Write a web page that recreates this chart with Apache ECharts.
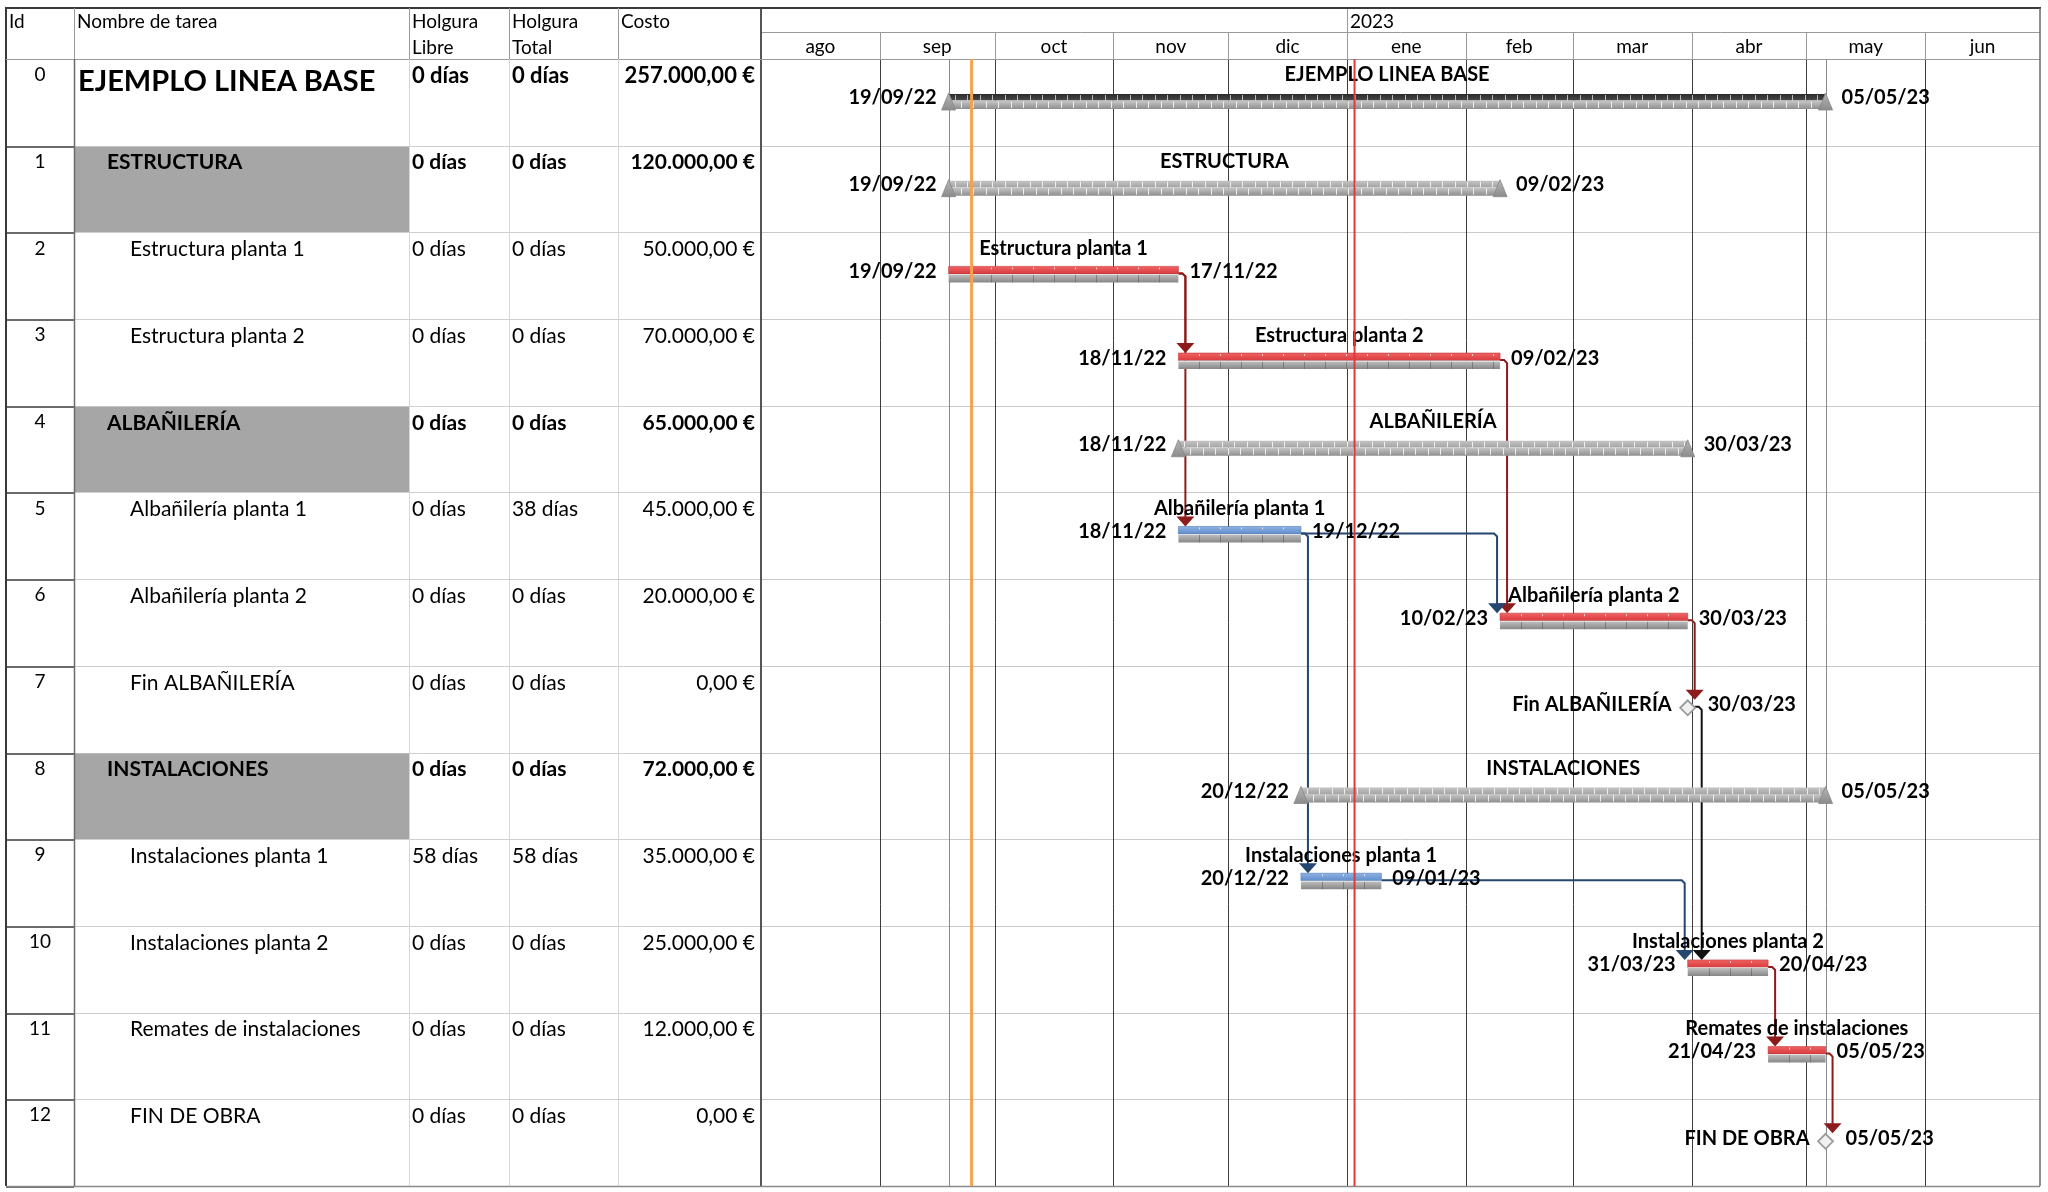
<!DOCTYPE html>
<html><head><meta charset="utf-8">
<script src="https://cdn.jsdelivr.net/npm/echarts@6/dist/echarts.min.js"></script>
<style>html,body{margin:0;padding:0;background:#fff}#c{width:2048px;height:1192px}</style>
</head><body><div id="c"></div>
<script>
// ---------------- DATA ----------------
const ids = [0,1,2,3,4,5,6,7,8,9,10,11,12];
const taskNames = ['EJEMPLO LINEA BASE','ESTRUCTURA','Estructura planta 1','Estructura planta 2','ALBAÑILERÍA','Albañilería planta 1','Albañilería planta 2','Fin ALBAÑILERÍA','INSTALACIONES','Instalaciones planta 1','Instalaciones planta 2','Remates de instalaciones','FIN DE OBRA'];
const outlineLevels = [0,1,2,2,1,2,2,2,1,2,2,2,2];
const taskKinds = ['project','summary','critical','critical','summary','normal','critical','milestone','summary','normal','critical','critical','milestone'];
const freeSlack = ['0 días','0 días','0 días','0 días','0 días','0 días','0 días','0 días','0 días','58 días','0 días','0 días','0 días'];
const totalSlack = ['0 días','0 días','0 días','0 días','0 días','38 días','0 días','0 días','0 días','58 días','0 días','0 días','0 días'];
const costs = [257000,120000,50000,70000,65000,45000,20000,0,72000,35000,25000,12000,0];
const startDates = ['2022-09-19','2022-09-19','2022-09-19','2022-11-18','2022-11-18','2022-11-18','2023-02-10','2023-03-30','2022-12-20','2022-12-20','2023-03-31','2023-04-21','2023-05-05'];
const finishDates = ['2023-05-05','2023-02-09','2022-11-17','2023-02-09','2023-03-30','2022-12-19','2023-03-30','2023-03-30','2023-05-05','2023-01-09','2023-04-20','2023-05-05','2023-05-05'];
const links = [[2,3,'critical'],[2,5,'critical'],[3,6,'critical'],[5,6,'normal'],[5,9,'normal'],[6,7,'critical'],[7,10,'plain'],[9,10,'normal'],[10,11,'critical'],[11,12,'critical']];
const tableHeaders = [['Id'],['Nombre de tarea'],['Holgura','Libre'],['Holgura','Total'],['Costo']];
const monthLabels = ['ago','sep','oct','nov','dic','ene','feb','mar','abr','may','jun'];
const monthStarts = ['2022-08-01','2022-09-01','2022-10-01','2022-11-01','2022-12-01','2023-01-01','2023-02-01','2023-03-01','2023-04-01','2023-05-01','2023-06-01'];
const timelineEnd = '2023-07-01';
const yearLabels = ['2023'];
const yearStarts = ['2023-01-01'];
const markerDates = ['2022-09-19','2023-05-06','2022-09-25','2023-01-03'];
const markerKinds = ['project','project','current','status'];

// ---------------- LAYOUT / STYLE ----------------
const DAY = 86400000;
const ts = s => Date.UTC(+s.slice(0,4), +s.slice(5,7)-1, +s.slice(8,10));
const fmtDate = s => s.slice(8,10)+'/'+s.slice(5,7)+'/'+s.slice(2,4);
const fmtCost = v => { const p = v.toFixed(2).split('.'); return p[0].replace(/\B(?=(\d{3})+(?!\d))/g,'.')+','+p[1]+' €'; };
const FONT = 'Lato, "Noto Sans", sans-serif';
const TOP = 8, HEAD_SPLIT = 32, HEAD_BOTTOM = 59, BOTTOM = 1186, GANTT_LEFT = 761, RIGHT = 2040;
const COLS = [6, 74, 409, 509, 618, 761];
const NAME_X = [78, 107, 130];
const LINK_COLORS = {critical:'#8e1b1b', normal:'#24466f', plain:'#111'};

function txt(x,y,text,opt){ return {type:'text', silent:true, style:Object.assign({x:x,y:y,text:text,fill:'#000',fontFamily:FONT,fontSize:21,fontWeight:'normal',align:'left',verticalAlign:'middle'},opt||{})}; }
function ln(x1,y1,x2,y2,stroke,w){ return {type:'line', silent:true, shape:{x1:x1,y1:y1,x2:x2,y2:y2}, style:{stroke:stroke,lineWidth:w||1}}; }
const px = v => Math.round(v)+0.5;
const grad = (a,b) => new echarts.graphic.LinearGradient(0,0,0,1,[{offset:0,color:a},{offset:1,color:b}]);

// ---------------- TABLE ----------------
function renderTableRow(params, api){
  const i = params.dataIndex;
  const c = api.coord([0, i]); const h = api.size([0,1])[1];
  const top = c[1]-h/2, bot = c[1]+h/2;
  const X = k => api.coord([COLS[k], i])[0];
  const kind = taskKinds[i];
  const bold = (kind==='summary'||kind==='project') ? 'bold' : 'normal';
  const fs = kind==='project' ? 22 : 21;
  const kids = [];
  if (kind==='summary') kids.push({type:'rect', silent:true, shape:{x:X(1)+1,y:top+1,width:X(2)-X(1)-1,height:h-1}, style:{fill:'#a6a6a6'}});
  kids.push(ln(X(1),px(bot),X(5),px(bot),'#cfcfcf',1));
  kids.push(ln(X(0),Math.round(bot)+1,X(1),Math.round(bot)+1,'#6b6b6b',2));
  const ty = top+17;
  kids.push(txt((X(0)+X(1))/2, ty-1, String(ids[i]), {align:'center', fontSize:19}));
  kids.push(txt(api.coord([NAME_X[outlineLevels[i]], i])[0], kind==='project'? top+23 : ty, taskNames[i], {fontWeight:bold, fontSize: kind==='project'?29:fs}));
  kids.push(txt(X(2)+3, ty, freeSlack[i], {fontWeight:bold, fontSize:fs}));
  kids.push(txt(X(3)+3, ty, totalSlack[i], {fontWeight:bold, fontSize:fs}));
  kids.push(txt(X(5)-6, ty, fmtCost(costs[i]), {fontWeight:bold, fontSize:fs, align:'right'}));
  return {type:'group', children:kids};
}

function renderTableHeader(params, api){
  const k = params.dataIndex;
  const x = api.coord([COLS[k], 0])[0];
  const kids = [];
  tableHeaders[k].forEach((t, j) => kids.push(txt(x+3, 22 + j*26, t, {fontSize:19})));
  if (k > 0) {
    kids.push(ln(px(x), TOP, px(x), HEAD_BOTTOM, '#9a9a9a', 1));
    const body = (k===1) ? '#6b6b6b' : '#d6d6d6';
    kids.push(ln(px(x), HEAD_BOTTOM, px(x), BOTTOM, body, k===1?1.5:1));
  }
  if (k === 0) {
    const xr = api.coord([COLS[5], 0])[0];
    kids.push(ln(x, TOP, x, BOTTOM, '#3a3a3a', 2));
    kids.push(ln(xr, TOP, xr, BOTTOM, '#555', 2));
    kids.push(ln(x-1, TOP, RIGHT+1, TOP, '#3a3a3a', 2));
    kids.push(ln(x, px(HEAD_BOTTOM), RIGHT, px(HEAD_BOTTOM), '#9a9a9a', 1));
    kids.push(ln(x, px(BOTTOM), RIGHT, px(BOTTOM), '#8a8a8a', 1.5));
    kids.push(ln(RIGHT, TOP, RIGHT, BOTTOM, '#6a6a6a', 1.5));
  }
  return {type:'group', children:kids};
}

// ---------------- GANTT BACKGROUND ----------------
function renderMonth(params, api){
  const k = params.dataIndex;
  const cs = params.coordSys;
  const a = api.coord([api.value(0), 0])[0], b = api.coord([api.value(1), 0])[0];
  const kids = [];
  if (k > 0) {
    kids.push(ln(px(a), HEAD_SPLIT, px(a), HEAD_BOTTOM, '#9a9a9a', 1));
    kids.push(ln(px(a), HEAD_BOTTOM, px(a), cs.y+cs.height, '#3c3c3c', 1));
  }
  kids.push(txt((a+b)/2, (HEAD_SPLIT+HEAD_BOTTOM)/2+1, monthLabels[k], {align:'center', fontSize:19}));
  if (k === 0) kids.push(ln(cs.x, px(HEAD_SPLIT), cs.x+cs.width, px(HEAD_SPLIT), '#9a9a9a', 1));
  return {type:'group', children:kids};
}
function renderYear(params, api){
  const k = params.dataIndex;
  const a = api.coord([api.value(0), 0])[0];
  return {type:'group', children:[
    ln(px(a), TOP, px(a), HEAD_SPLIT, '#9a9a9a', 1),
    txt(a+3, (TOP+HEAD_SPLIT)/2+2, yearLabels[k], {fontSize:19})
  ]};
}
function renderRowLine(params, api){
  const i = params.dataIndex;
  const cs = params.coordSys;
  const c = api.coord([api.value(0), i]); const h = api.size([0,1])[1];
  const bot = c[1]+h/2;
  return ln(cs.x, px(bot), cs.x+cs.width, px(bot), '#c9c9c9', 1);
}

// ---------------- LINKS ----------------
function renderLink(params, api){
  const l = links[params.dataIndex];
  const pred = l[0];
  const pe = api.coord([api.value(0), api.value(1)]);
  const ss = api.coord([api.value(2), api.value(3)]);
  const h = api.size([0,1])[1];
  const pTop = pe[1]-h/2, sTop = ss[1]-h/2;
  const col = LINK_COLORS[l[2]];
  let xs = pe[0], xv;
  if (taskKinds[pred]==='milestone') { xs = pe[0]+7; xv = pe[0]+14; }
  else if (pe[0]+7 < ss[0]) xv = ss[0]-3;
  else xv = pe[0]+7;
  const y1 = pTop+41;
  const tipY = sTop+34;
  return {type:'group', children:[
    {type:'polyline', silent:true, shape:{points:[[xs,y1],[xv-3,y1],[xv,y1+3],[xv,tipY-9]]}, style:{stroke:col, lineWidth:2, fill:null}},
    {type:'polygon', silent:true, shape:{points:[[xv-9,tipY-10],[xv+9,tipY-10],[xv,tipY]]}, style:{fill:col}}
  ]};
}

// ---------------- BARS ----------------
function ticks(x0, x1, y0, y1, step, offset, color){
  const out = [];
  for (let x = x0+offset; x < x1-3; x += step) out.push(ln(px(x), y0, px(x), y1, color, 1));
  return out;
}
function renderBar(params, api){
  const i = params.dataIndex;
  const kind = taskKinds[i];
  const p = api.coord([api.value(1), i]), q = api.coord([api.value(2), i]);
  const h = api.size([0,1])[1]; const top = p[1]-h/2;
  const x0 = p[0], x1 = q[0];
  const kids = [];
  const dateFont = {fontWeight:'bold', fontSize:20};
  if (kind === 'milestone') {
    const cx = x1, cy = top+42;
    kids.push({type:'polygon', silent:true, shape:{points:[[cx,cy-7.5],[cx+7.5,cy],[cx,cy+7.5],[cx-7.5,cy]]}, style:{fill:'#f0f0f0', stroke:'#9a9a9a', lineWidth:1.8}});
    kids.push(txt(cx-16, top+39, taskNames[i], Object.assign({align:'right'}, dateFont)));
    kids.push(txt(cx+20, top+39, fmtDate(finishDates[i]), dateFont));
    return {type:'group', children:kids};
  }
  const bt = top+34, mid = top+41.5, bb = top+50;
  if (kind === 'project' || kind === 'summary') {
    const topFill = kind==='project' ? grad('#2a2a2a','#4a4a4a') : grad('#c4c4c4','#a5a5a5');
    const tickTop = kind==='project' ? 'rgba(230,230,230,0.75)' : 'rgba(245,245,245,0.9)';
    kids.push({type:'rect', silent:true, shape:{x:x0,y:bt+1,width:x1-x0,height:mid-bt-1}, style:{fill:topFill}});
    kids.push({type:'rect', silent:true, shape:{x:x0,y:mid,width:x1-x0,height:bb-mid}, style:{fill:grad('#c9c9c9','#8e8e8e')}});
    kids.push.apply(kids, ticks(x0, x1, bt+2, mid, 12.5, 6, tickTop));
    kids.push.apply(kids, ticks(x0, x1, mid+1, bb-1, 12.5, 12, 'rgba(245,245,245,0.9)'));
    [x0, x1].forEach(x => kids.push({type:'polygon', silent:true, shape:{points:[[x-7,bb+1],[x+7,bb+1],[x,bt]]}, style:{fill:grad('#b8b8b8','#8a8a8a'), stroke:'#888', lineWidth:0.8}}));
    kids.push(txt((x0+x1)/2, top+16, taskNames[i], {fontWeight:'bold', fontSize:20, align:'center'}));
    kids.push(txt(x0-12, top+39, fmtDate(startDates[i]), Object.assign({align:'right'}, dateFont)));
    kids.push(txt(x1+16, top+39, fmtDate(finishDates[i]), dateFont));
  } else {
    const fill = kind==='critical' ? grad('#f26466','#d63a3c') : grad('#8fb2e2','#5f8ccb');
    const edge = kind==='critical' ? '#c03535' : '#4f7bb8';
    kids.push({type:'rect', silent:true, shape:{x:x0,y:bt,width:x1-x0,height:mid-bt}, style:{fill:fill, stroke:edge, lineWidth:0.6}});
    kids.push({type:'rect', silent:true, shape:{x:x0,y:mid,width:x1-x0,height:bb-mid}, style:{fill:grad('#c4c4c4','#878787')}});
    kids.push.apply(kids, ticks(x0, x1, bt+1, bt+3, 21, 21, 'rgba(255,235,235,0.8)'));
    kids.push.apply(kids, ticks(x0, x1, mid+1, bb, 21, 21, 'rgba(90,90,90,0.55)'));
    kids.push(ln(x0, px(mid), x1, px(mid), 'rgba(255,255,255,0.5)', 1));
    kids.push(txt((x0+x1)/2, top+16, taskNames[i], {fontWeight:'bold', fontSize:20, align:'center'}));
    kids.push(txt(x0-12, top+39, fmtDate(startDates[i]), Object.assign({align:'right'}, dateFont)));
    kids.push(txt(x1+11, top+39, fmtDate(finishDates[i]), dateFont));
  }
  return {type:'group', children:kids};
}

// ---------------- CHART ----------------
const chart = echarts.init(document.getElementById('c'), null, {renderer:'canvas'});
const monthData = monthStarts.map((m,k) => [ts(m), ts(k+1<monthStarts.length ? monthStarts[k+1] : timelineEnd), 0]);
const option = {
  animation:false,
  backgroundColor:'#ffffff',
  grid:[
    {left:0, top:HEAD_BOTTOM, width:GANTT_LEFT, height:BOTTOM-HEAD_BOTTOM},
    {left:GANTT_LEFT, top:HEAD_BOTTOM, width:RIGHT-GANTT_LEFT, height:BOTTOM-HEAD_BOTTOM}
  ],
  xAxis:[
    {type:'value', gridIndex:0, min:0, max:GANTT_LEFT, show:false},
    {type:'time', gridIndex:1, min:ts(monthStarts[0]), max:ts(timelineEnd), show:false}
  ],
  yAxis:[
    {type:'category', gridIndex:0, data:ids.map(String), inverse:true, show:false},
    {type:'category', gridIndex:1, data:ids.map(String), inverse:true, show:false}
  ],
  series:[
    {type:'custom', xAxisIndex:0, yAxisIndex:0, clip:false, silent:true, z:2,
     data: ids.map(i => [0, i]), encode:{x:0, y:1}, renderItem: renderTableRow},
    {type:'custom', xAxisIndex:0, yAxisIndex:0, clip:false, silent:true, z:3,
     data: tableHeaders.map((h,k) => [COLS[k], 0]), encode:{x:0, y:1}, renderItem: renderTableHeader},
    {type:'custom', xAxisIndex:1, yAxisIndex:1, clip:false, silent:true, z:1,
     data: ids.map(i => [ts(monthStarts[0]), i]), encode:{x:0, y:1}, renderItem: renderRowLine},
    {type:'custom', xAxisIndex:1, yAxisIndex:1, clip:false, silent:true, z:2,
     data: monthData, encode:{x:[0,1], y:2}, renderItem: renderMonth},
    {type:'custom', xAxisIndex:1, yAxisIndex:1, clip:false, silent:true, z:2,
     data: yearStarts.map(s => [ts(s), 0]), encode:{x:0, y:1}, renderItem: renderYear},
    {type:'custom', xAxisIndex:1, yAxisIndex:1, clip:false, silent:true, z:3,
     data: markerDates.filter((d,k)=>markerKinds[k]==='project').map(d => [ts(d), 0]), encode:{x:0, y:1},
     renderItem: (p, api) => { const cs = p.coordSys; const x = px(api.coord([api.value(0),0])[0]); return ln(x, cs.y, x, cs.y+cs.height, '#8a8a8a', 1); }},
    {type:'custom', xAxisIndex:1, yAxisIndex:1, clip:false, silent:true, z:4,
     data: links.map(l => [ts(finishDates[l[0]])+DAY, l[0], ts(startDates[l[1]]), l[1]]), encode:{x:[0,2], y:[1,3]}, renderItem: renderLink},
    {type:'custom', xAxisIndex:1, yAxisIndex:1, clip:false, silent:true, z:5,
     data: ids.map(i => [i, ts(startDates[i]), ts(finishDates[i])+DAY]), encode:{x:[1,2], y:0}, renderItem: renderBar},
    {type:'custom', xAxisIndex:1, yAxisIndex:1, clip:false, silent:true, z:6,
     data: markerDates.map((d,k) => [ts(d), 0]).filter((d,k)=>markerKinds[k]!=='project'), encode:{x:0, y:1},
     renderItem: (p, api) => { const cs = p.coordSys; const x = api.coord([api.value(0),0])[0]; const cur = p.dataIndex===0; return ln(x, cs.y, x, cs.y+cs.height, cur?'#f3a24d':'#e2383a', cur?3:2); }}
  ]
};
chart.setOption(option);
</script>
</body></html>
